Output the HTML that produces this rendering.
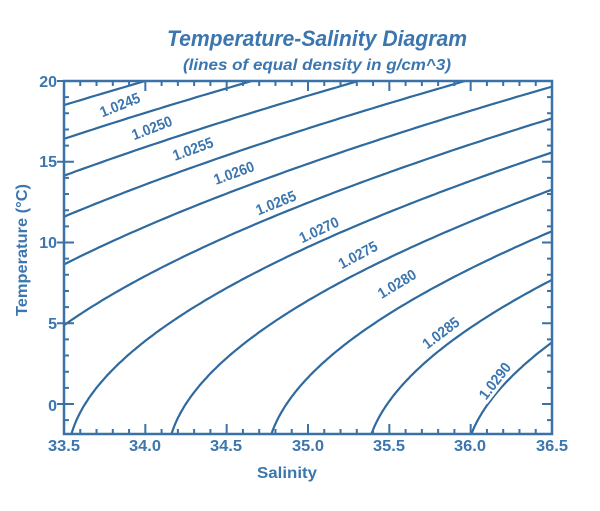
<!DOCTYPE html>
<html><head><meta charset="utf-8"><style>
html,body{margin:0;padding:0;background:#fff;}
svg text{font-family:"Liberation Sans",sans-serif;font-weight:bold;fill:#3b76ae;}
</style></head><body>
<svg id="s" width="600" height="506" viewBox="0 0 600 506" xmlns="http://www.w3.org/2000/svg">
<defs><clipPath id="c"><rect x="64" y="81" width="488" height="353"/></clipPath></defs>
<text x="317" y="46" font-size="22" font-style="italic" text-anchor="middle" textLength="300" lengthAdjust="spacingAndGlyphs">Temperature-Salinity Diagram</text>
<text x="317" y="70" font-size="16" font-style="italic" text-anchor="middle" textLength="268" lengthAdjust="spacingAndGlyphs">(lines of equal density in g/cm^3)</text>
<g id="curves" clip-path="url(#c)" fill="none" stroke="#2f6a9f" stroke-width="2.2"></g>
<g id="ticks" stroke="#3a72a8" stroke-width="2"></g>
<rect x="64" y="81" width="488" height="353" fill="none" stroke="#3a72a8" stroke-width="2.5"/>
<g id="labels"></g>
<g font-size="16" text-anchor="end">
<text x="57" y="87">20</text><text x="57" y="167">15</text><text x="57" y="248">10</text><text x="57" y="329">5</text><text x="57" y="411">0</text>
</g>
<g font-size="16" text-anchor="middle">
<text x="64" y="451" textLength="32" lengthAdjust="spacingAndGlyphs">33.5</text><text x="145" y="451" textLength="32" lengthAdjust="spacingAndGlyphs">34.0</text><text x="226" y="451" textLength="32" lengthAdjust="spacingAndGlyphs">34.5</text><text x="308" y="451" textLength="32" lengthAdjust="spacingAndGlyphs">35.0</text><text x="389" y="451" textLength="32" lengthAdjust="spacingAndGlyphs">35.5</text><text x="470" y="451" textLength="32" lengthAdjust="spacingAndGlyphs">36.0</text><text x="552" y="451" textLength="32" lengthAdjust="spacingAndGlyphs">36.5</text>
</g>
<text x="287" y="478" font-size="16" text-anchor="middle" textLength="60" lengthAdjust="spacingAndGlyphs">Salinity</text>
<text transform="translate(27,250) rotate(-90)" font-size="16" text-anchor="middle" textLength="132" lengthAdjust="spacingAndGlyphs">Temperature (°C)</text>
</svg>
<script>
var NS="http://www.w3.org/2000/svg";
function X(S){return 64+(S-33.5)*488/3;}
function Y(T){return 404-T*16.15;}
function rho(S,T){
var rw=999.842594+6.793952e-2*T-9.095290e-3*T*T+1.001685e-4*T*T*T-1.120083e-6*Math.pow(T,4)+6.536332e-9*Math.pow(T,5);
return rw+S*(0.824493-4.0899e-3*T+7.6438e-5*T*T-8.2467e-7*T*T*T+5.3875e-9*Math.pow(T,4))+Math.pow(S,1.5)*(-5.72466e-3+1.0227e-4*T-1.6546e-6*T*T)+4.8314e-4*S*S;}
function solveS(r,T){var a=25,b=42;for(var i=0;i<50;i++){var m=(a+b)/2;if(rho(m,T)<r)a=m;else b=m;}return (a+b)/2;}
var g=document.getElementById("curves");
for(var k=0;k<11;k++){
 var r=1024.0+0.5*k,pts=[];
 for(var T=-2.5;T<=21;T+=0.1){var S=solveS(r,T);pts.push(X(S).toFixed(1)+","+Y(T).toFixed(1));}
 var p=document.createElementNS(NS,"polyline");p.setAttribute("points",pts.join(" "));g.appendChild(p);
}
var t=document.getElementById("ticks"),d="";
for(var i=0;i<=30;i++){var x=64+i*488/30,L=(i%5==0)?10:5;d+="M"+x+",434v-"+L+"M"+x+",81v"+L;}
for(var T=-1;T<=20;T++){var y=Y(T),L=(T%5==0)?10:5;d+="M64,"+y+"h"+L+"M552,"+y+"h-"+L;if(T%5==0)d+="M57,"+y+"h7";}
var tp=document.createElementNS(NS,"path");tp.setAttribute("d",d);t.appendChild(tp);
var labs=[["1.0245",120,105,-22],["1.0250",152,128,-21],["1.0255",193,149,-20],["1.0260",234,173,-20],["1.0265",276,203,-22],["1.0270",319,230,-25],["1.0275",358,255,-28],["1.0280",397,284,-31],["1.0285",441,333,-37],["1.0290",495,381,-52]];
var lg=document.getElementById("labels");
labs.forEach(function(l){
 var gg=document.createElementNS(NS,"g");gg.setAttribute("transform","translate("+l[1]+","+l[2]+") rotate("+l[3]+")");
 var rc=document.createElementNS(NS,"rect");rc.setAttribute("x",-23);rc.setAttribute("y",-9);rc.setAttribute("width",46);rc.setAttribute("height",17);rc.setAttribute("fill","#fff");gg.appendChild(rc);
 var tx=document.createElementNS(NS,"text");tx.setAttribute("font-size","15");tx.setAttribute("text-anchor","middle");tx.setAttribute("y","5");tx.setAttribute("textLength","42");tx.setAttribute("lengthAdjust","spacingAndGlyphs");tx.textContent=l[0];gg.appendChild(tx);
 lg.appendChild(gg);
});
</script>
</body></html>
